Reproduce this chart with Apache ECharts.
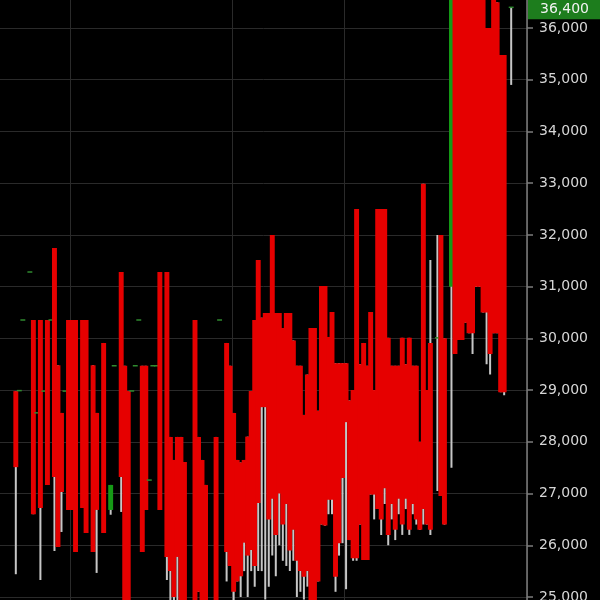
<!DOCTYPE html>
<html>
<head>
<meta charset="utf-8">
<script src="https://cdn.jsdelivr.net/npm/echarts@6/dist/echarts.min.js"></script>
<style>html,body{margin:0;padding:0;background:#000;}#chart{width:600px;height:600px;}</style>
</head>
<body>
<div id="chart"></div>
<script>
const _ = null;
// one slot per session (150 sessions); null = no candle
const open = [
  _,_,_,_,28980,28990,30355,_,31283,30355,
  28560,30355,28980,30355,30355,31747,29480,28558,28980,30355,
  30355,30355,_,30355,30355,_,29480,28558,_,29911,
  _,26683,29470,_,31283,29470,28983,28983,29470,30355,
  29470,29470,27260,29470,29470,31283,_,31283,28094,27649,
  28094,28094,27610,_,_,30355,28094,27649,27166,_,
  _,28094,30355,_,29911,29470,28558,27649,27600,27649,
  28100,28983,30355,31515,30400,30490,30490,32000,30490,30490,
  30200,30490,30490,29960,29470,29470,28520,29300,30200,30200,
  28600,31012,31012,30027,30510,29520,29520,29520,29520,28800,
  29000,32500,29500,29911,29470,30510,29000,32500,32500,32500,
  30010,29470,29470,29470,30010,29500,30010,29470,29470,28000,
  32990,29000,29911,_,30010,32000,30000,_,31000,37000,
  37000,37000,37000,37000,37000,37000,37000,37000,36000,36000,
  36800,36500,35480,35480,_,36400,_,_,_,_
];
const close = [
  _,_,_,_,27510,28990,30355,_,31283,26600,
  28560,26720,28980,27166,30355,27320,25967,27030,28980,26683,
  26683,25871,_,26720,26238,_,25871,26683,_,26238,
  _,27166,29470,_,27320,24800,24800,28983,29470,30355,
  25871,26683,27260,29470,29470,26683,_,25774,25500,25000,
  25774,24900,24900,_,_,24900,25100,24900,24900,_,
  _,24900,30355,_,25871,25600,25100,25300,25400,26050,
  25800,25910,25600,26818,28670,28670,26500,26900,26200,27000,
  26400,26800,25900,26300,25700,25500,25390,25500,24800,24800,
  25300,26400,26380,26880,26880,25390,26040,27300,28380,26100,
  25750,25750,26400,25715,25715,26980,26980,26700,26500,27100,
  26200,26800,26300,26900,26400,26900,26300,26800,26500,26300,
  26700,26400,26300,_,30010,26950,26400,_,37000,29700,
  29970,29970,30300,30100,30100,31000,31000,30500,30500,29700,
  30100,30100,28960,28960,_,36400,_,_,_,_
];
const low = [
  _,_,_,_,25440,28990,30355,_,31283,26600,
  28560,25330,28980,27166,30355,25890,25967,26257,28980,26683,
  26683,25871,_,26720,26238,_,25871,25465,_,26238,
  _,26590,29470,_,26644,24800,24800,28983,29470,30355,
  25871,26683,27260,29470,29470,26683,_,25330,24900,24800,
  24800,24900,24900,_,_,24900,25100,24900,24900,_,
  _,24900,30355,_,25300,25600,24800,25300,25000,25500,
  25000,25500,25200,25500,25500,24950,25200,25800,25400,26000,
  25700,25600,25500,25700,25000,25100,24950,25200,24800,24800,
  25300,26400,26380,26600,26600,25100,25800,26040,25150,26100,
  25700,25700,26400,25715,25715,26980,26500,26700,26200,26800,
  26000,26500,26100,26600,26200,26700,26200,26600,26400,26300,
  26400,26400,26200,_,27050,26950,26400,_,27500,29700,
  29970,29970,30300,30100,29700,31000,31000,30500,29500,29300,
  30100,30100,28960,28900,_,34900,_,_,_,_
];
const high = [
  _,_,_,_,28980,28990,30355,_,31283,30355,
  28560,30355,28980,30355,30355,31747,29480,28558,28980,30355,
  30355,30355,_,30355,30355,_,29480,28558,_,29911,
  _,27166,29470,_,31283,29470,28983,28983,29470,30355,
  29470,29470,27260,29470,29470,31283,_,31283,28094,27649,
  28094,28094,27610,_,_,30355,28094,27649,27166,_,
  _,28094,30355,_,29911,29470,28558,27649,27600,27649,
  28100,28983,30355,31515,30400,30490,30490,32000,30490,30490,
  30200,30490,30490,29960,29470,29470,28520,29300,30200,30200,
  28600,31012,31012,30027,30510,29520,29520,29520,29520,28800,
  29000,32500,29500,29911,29470,30510,29000,32500,32500,32500,
  30010,29470,29470,29470,30010,29500,30010,29470,29470,28000,
  32990,29000,31515,_,32000,32000,30000,_,37000,37000,
  37000,37000,37000,37000,37000,37000,37000,37000,36000,36000,
  36800,36500,35480,35480,_,36400,_,_,_,_
];
const sessions = open.map((v, i) => 'D' + (i + 1));
const monthStarts = [20, 66, 98];
const yTicks = { min: 24000, max: 37000, step: 1000 };
const lastPrice = 36400;
const lastIndex = 145;

const data = [];
for (let i = 0; i < open.length; i++) {
  if (open[i] != null) data.push([i, open[i], close[i], low[i], high[i]]);
}

const chart = echarts.init(document.getElementById('chart'), null, { renderer: 'canvas' });
chart.setOption({
  backgroundColor: '#000000',
  animation: false,
  grid: { left: 0, right: 73, top: -23.7, bottom: -48.7, outerBoundsMode: 'none', containLabel: false },
  xAxis: {
    type: 'category',
    data: sessions,
    boundaryGap: true,
    axisLine: { show: false },
    axisTick: { show: false },
    axisLabel: { show: false },
    splitLine: {
      show: true,
      interval: (idx) => monthStarts.includes(idx),
      lineStyle: { color: '#2a2a2a', width: 1 }
    }
  },
  yAxis: {
    type: 'value',
    position: 'right',
    min: yTicks.min,
    max: yTicks.max,
    interval: yTicks.step,
    axisLine: { show: true, lineStyle: { color: '#7c7c7c', width: 1.5 } },
    axisTick: { show: true, length: 6, lineStyle: { color: '#7c7c7c', width: 1.5 } },
    axisLabel: {
      margin: 12,
      color: '#d6d6d6',
      fontSize: 14,
      fontFamily: 'DejaVu Sans',
      formatter: (v) => v.toLocaleString('en-US')
    },
    splitLine: { show: true, lineStyle: { color: '#2a2a2a', width: 1 } }
  },
  series: [
    {
      type: 'custom',
      clip: true,
      data: data,
      encode: { x: 0, y: [1, 2, 3, 4] },
      renderItem: function (params, api) {
        const i = api.value(0);
        const o = api.value(1), c = api.value(2), l = api.value(3), h = api.value(4);
        const band = api.size([1, 0])[0];
        const w = band * 1.4;
        const pO = api.coord([i, o]);
        const pC = api.coord([i, c]);
        const pL = api.coord([i, l]);
        const pH = api.coord([i, h]);
        const x = pO[0];
        const children = [];
        if (h !== l) {
          children.push({
            type: 'line',
            shape: { x1: x, y1: pH[1], x2: x, y2: pL[1] },
            style: { stroke: '#c6c6c6', lineWidth: 2 }
          });
        }
        if (o === c) {
          children.push({
            type: 'rect',
            shape: { x: x - w / 2, y: pO[1] - 0.75, width: w, height: 1.5 },
            style: { fill: '#2f8a2f' }
          });
        } else {
          const top = Math.min(pO[1], pC[1]);
          const bot = Math.max(pO[1], pC[1]);
          children.push({
            type: 'rect',
            shape: { x: x - w / 2, y: top, width: w, height: bot - top },
            style: { fill: c > o ? '#169a16' : '#e60000' }
          });
        }
        return { type: 'group', children: children };
      }
    },
    {
      type: 'custom',
      clip: false,
      z: 10,
      data: [[lastIndex, lastPrice]],
      encode: { x: 0, y: 1 },
      renderItem: function (params, api) {
        const p = api.coord([api.value(0), api.value(1)]);
        const cs = params.coordSys;
        const left = cs.x + cs.width + 1;
        return {
          type: 'group',
          children: [
            {
              type: 'rect',
              shape: { x: left, y: p[1] - 8, width: 80, height: 20 },
              style: { fill: '#1d7d1d' }
            },
            {
              type: 'text',
              x: left + 12,
              y: p[1] + 2,
              style: {
                text: api.value(1).toLocaleString('en-US'),
                fill: '#f2f2f2',
                font: '14px "DejaVu Sans"',
                textVerticalAlign: 'middle',
                verticalAlign: 'middle',
                align: 'left'
              }
            }
          ]
        };
      }
    }
  ]
});
</script>
</body>
</html>
